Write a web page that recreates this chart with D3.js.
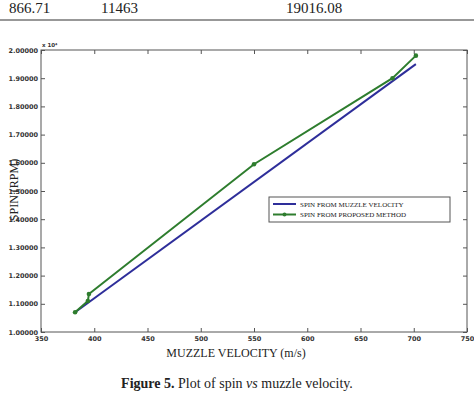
<!DOCTYPE html>
<html>
<head>
<meta charset="utf-8">
<script src="https://cdn.jsdelivr.net/npm/d3@7"></script>
<style>
  body { margin: 0; background: #fff; }
  svg { display: block; }
</style>
</head>
<body>
<svg id="chart" width="474" height="401"></svg>
<script>
// data
const tableRow = ["866.71", "11463", "19016.08"];
const blueX = [382, 702];
const blueY = [10700, 19500];
const greenX = [382, 394, 395, 550, 680, 702];
const greenY = [10700, 11100, 11350, 15950, 19000, 19800];
const xTicks = [350, 400, 450, 500, 550, 600, 650, 700, 750];
const yTicks = [10000, 11000, 12000, 13000, 14000, 15000, 16000, 17000, 18000, 19000, 20000];

const svg = d3.select("#chart");
const serif = "'Liberation Serif', 'DejaVu Serif', serif";

// fragment of the table above the figure
svg.selectAll("text.tbl").data(tableRow).enter().append("text")
  .attr("x", (d, i) => [9, 101, 286][i]).attr("y", 13)
  .attr("font-family", serif).attr("font-size", 15).attr("fill", "#222")
  .text(d => d);
svg.append("line").attr("x1", 0).attr("x2", 474).attr("y1", 20).attr("y2", 20)
  .attr("stroke", "#333").attr("stroke-width", 1.2);

const pLeft = 41, pRight = 467, pTop = 50, pBottom = 332;
const x = d3.scaleLinear().domain([350, 750]).range([pLeft, pRight]);
const y = d3.scaleLinear().domain([10000, 20000]).range([pBottom, pTop]);

svg.append("rect").attr("x", pLeft).attr("y", pTop)
  .attr("width", pRight - pLeft).attr("height", pBottom - pTop)
  .attr("fill", "none").attr("stroke", "#555");

const gx = svg.append("g").attr("transform", `translate(0,${pBottom})`)
  .call(d3.axisBottom(x).tickValues(xTicks).tickSize(-4).tickPadding(4));
const gxTop = svg.append("g").attr("transform", `translate(0,${pTop})`)
  .call(d3.axisTop(x).tickValues(xTicks).tickSize(-4).tickFormat(""));
const gy = svg.append("g").attr("transform", `translate(${pLeft},0)`)
  .call(d3.axisLeft(y).tickValues(yTicks).tickSize(-4).tickPadding(3)
    .tickFormat(d => d3.format("g")(d / 10000)));
const gyR = svg.append("g").attr("transform", `translate(${pRight},0)`)
  .call(d3.axisRight(y).tickValues(yTicks).tickSize(-4).tickFormat(""));
[gx, gxTop, gy, gyR].forEach(g => {
  g.select(".domain").remove();
  g.selectAll("line").attr("stroke", "#555");
  g.selectAll("text").attr("font-family", "'DejaVu Sans', sans-serif")
    .attr("font-size", 6.5).attr("font-weight", "bold").attr("fill", "#333");
});
svg.append("text").attr("x", pLeft + 1).attr("y", pTop - 3)
  .attr("font-family", "'DejaVu Sans', sans-serif").attr("font-size", 5.5)
  .attr("font-weight", "bold").attr("fill", "#333").text("x 10\u2074");

const line = d3.line().x(d => x(d[0])).y(d => y(d[1]));
const blue = blueX.map((v, i) => [v, blueY[i]]);
const green = greenX.map((v, i) => [v, greenY[i]]);
svg.append("path").attr("d", line(blue)).attr("fill", "none")
  .attr("stroke", "#2e2e9a").attr("stroke-width", 2);
svg.append("path").attr("d", line(green)).attr("fill", "none")
  .attr("stroke", "#2e7d2e").attr("stroke-width", 2);
svg.selectAll("circle.g").data(green).enter().append("circle")
  .attr("cx", d => x(d[0])).attr("cy", d => y(d[1])).attr("r", 2.3)
  .attr("fill", "#2e7d2e");

// legend
const lg = svg.append("g");
lg.append("rect").attr("x", 269).attr("y", 197).attr("width", 181).attr("height", 25)
  .attr("fill", "#fff").attr("stroke", "#555");
const legendItems = [["SPIN FROM MUZZLE VELOCITY", "#2e2e9a", false], ["SPIN FROM PROPOSED METHOD", "#2e7d2e", true]];
legendItems.forEach((it, i) => {
  const yy = 204 + i * 10.5;
  lg.append("line").attr("x1", 273).attr("x2", 296).attr("y1", yy).attr("y2", yy)
    .attr("stroke", it[1]).attr("stroke-width", 2);
  if (it[2]) lg.append("circle").attr("cx", 284.5).attr("cy", yy).attr("r", 2).attr("fill", it[1]);
  lg.append("text").attr("x", 300).attr("y", yy + 2.5)
    .attr("font-family", serif).attr("font-size", 7).attr("fill", "#222").text(it[0]);
});

// axis titles
svg.append("text").attr("x", 236).attr("y", 357).attr("text-anchor", "middle")
  .attr("font-family", serif).attr("font-size", 12).attr("fill", "#222")
  .text("MUZZLE VELOCITY (m/s)");
svg.append("text").attr("transform", "translate(18,190) rotate(-90)")
  .attr("text-anchor", "middle").attr("font-family", serif).attr("font-size", 12)
  .attr("fill", "#222").text("SPIN (RPM)");

const cap = svg.append("text").attr("x", 237).attr("y", 388).attr("text-anchor", "middle")
  .attr("font-family", serif).attr("font-size", 14).attr("fill", "#222");
cap.append("tspan").attr("font-weight", "bold").text("Figure 5.");
cap.append("tspan").text("  Plot of spin ");
cap.append("tspan").attr("font-style", "italic").text("vs");
cap.append("tspan").text(" muzzle velocity.");
</script>
</body>
</html>
